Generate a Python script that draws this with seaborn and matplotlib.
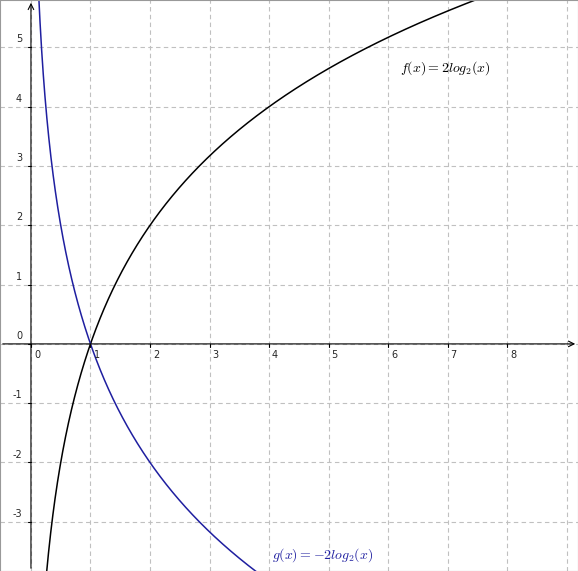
import numpy as np
import matplotlib
matplotlib.use("Agg")
import matplotlib.pyplot as plt
import seaborn as sns
import pandas as pd

sns.set_style("white")
plt.rcParams['font.family'] = ['DejaVu Sans']
plt.rcParams['mathtext.fontset'] = 'cm'

x_ticks = [0, 1, 2, 3, 4, 5, 6, 7, 8]
y_ticks = [-3, -2, -1, 0, 1, 2, 3, 4, 5]
xs = np.linspace(0.005, 9.2, 2000)
df = pd.DataFrame({"x": xs, "f": 2*np.log2(xs), "g": -2*np.log2(xs)})

fig = plt.figure(figsize=(5.78, 5.71), dpi=100)
ax = fig.add_axes([0, 0, 1, 1])
xmin, xmax = -0.52, 9.19
ymin, ymax = -3.83, 5.80
ax.set_xlim(xmin, xmax); ax.set_ylim(ymin, ymax)
for v in range(0, 10):
    ax.axvline(v, color='#c0c0c0', ls=(0, (4, 3)), lw=0.8, zorder=0)
for v in range(-3, 6):
    ax.axhline(v, color='#c0c0c0', ls=(0, (4, 3)), lw=0.8, zorder=0)
sns.lineplot(data=df, x="x", y="f", ax=ax, color='black', lw=1.1, sort=False)
sns.lineplot(data=df, x="x", y="g", ax=ax, color='#1f1fa0', lw=1.1, sort=False)
ax.annotate('', xy=(xmax, 0), xytext=(xmin, 0),
            arrowprops=dict(arrowstyle='->', color='black', lw=0.8))
ax.annotate('', xy=(0, ymax), xytext=(0, ymin),
            arrowprops=dict(arrowstyle='->', color='black', lw=0.8))
for t in x_ticks:
    ax.plot([t, t], [0, -0.05], color='black', lw=0.8)
    ax.text(t + 0.05, -0.1, str(t), fontsize=7, ha='left', va='top')
for t in y_ticks:
    ax.plot([0, -0.05], [t, t], color='black', lw=0.8)
    if t != 0:
        ax.text(-0.15, t + 0.05, str(t), fontsize=7, ha='right', va='bottom')
ax.text(-0.15, 0.05, '0', fontsize=7, ha='right', va='bottom')
ax.text(6.2, 4.6, r'$f(x)=2log_2(x)$', fontsize=10, color='black')
ax.text(4.05, -3.62, r'$g(x)=-2log_2(x)$', fontsize=10, color='#1f1fa0')
ax.set_xlabel(''); ax.set_ylabel('')
ax.set_xticks([]); ax.set_yticks([])
for s in ax.spines.values():
    s.set_color('#999999'); s.set_linewidth(0.8)
fig.savefig('out.png', dpi=100)
